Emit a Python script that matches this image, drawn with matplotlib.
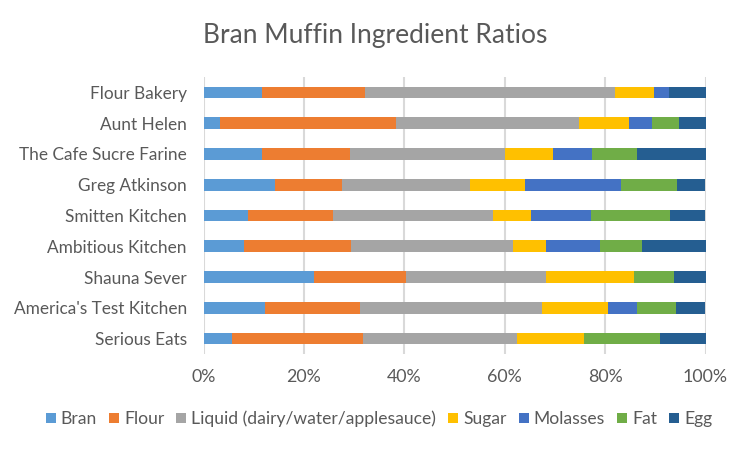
import matplotlib
matplotlib.use("Agg")
import matplotlib.pyplot as plt
import numpy as np

categories = ["Flour Bakery", "Aunt Helen", "The Cafe Sucre Farine", "Greg Atkinson",
              "Smitten Kitchen", "Ambitious Kitchen", "Shauna Sever",
              "America's Test Kitchen", "Serious Eats"]
series_names = ["Bran", "Flour", "Liquid (dairy/water/applesauce)", "Sugar",
                "Molasses", "Fat", "Egg"]
bran = [11.6, 3.3, 11.6, 14.2, 8.9, 8.1, 22.0, 12.3, 5.7]
flour = [20.6, 35.0, 17.6, 13.4, 16.9, 21.3, 18.3, 18.9, 26.1]
liquid = [49.8, 36.5, 30.9, 25.5, 31.9, 32.3, 27.9, 36.2, 30.7]
sugar = [7.7, 10.0, 9.5, 10.9, 7.5, 6.5, 17.6, 13.2, 13.3]
molasses = [3.0, 4.5, 7.8, 19.2, 12.0, 10.8, 0.0, 5.8, 0.0]
fat = [0.0, 5.4, 9.0, 11.1, 15.7, 8.4, 7.9, 7.7, 15.1]
egg = [7.3, 5.3, 13.6, 5.7, 7.1, 12.6, 6.3, 5.9, 9.1]
xtick_labels = ["0%", "20%", "40%", "60%", "80%", "100%"]

colors = ["#5B9BD5", "#ED7D31", "#A5A5A5", "#FFC000", "#4472C4", "#70AD47", "#255E91"]
text_color = "#595959"
font = ["Lato", "DejaVu Sans"]
plt.rcParams['font.family'] = font

fig = plt.figure(figsize=(7.5, 4.49), dpi=100)
ax = fig.add_axes([203.5/750, 1-354/449, 502/750, 277/449])

data = np.array([bran, flour, liquid, sugar, molasses, fat, egg])
totals = data.sum(axis=0)
frac = data / totals
y = np.arange(len(categories))
left = np.zeros(len(categories))
for name, vals, c in zip(series_names, frac, colors):
    ax.barh(y, vals, left=left, height=0.38, color=c, label=name, zorder=3)
    left = left + vals

ax.set_xlim(0, 1)
ax.set_ylim(len(categories) - 0.5, -0.5)
ax.set_yticks(y)
ax.set_yticklabels(categories, fontsize=12.4, color=text_color)
ax.set_xticks(np.linspace(0, 1, 6))
ax.set_xticklabels(xtick_labels, fontsize=12.8, color=text_color)
ax.tick_params(axis='both', length=0)
ax.tick_params(axis='y', pad=12)
ax.tick_params(axis='x', pad=10.5)
ax.grid(axis='x', color="#D9D9D9", linewidth=1.5, zorder=0)
for s in ax.spines.values():
    s.set_visible(False)

fig.suptitle("Bran Muffin Ingredient Ratios", x=375/750, y=1-35/449, va='center',
             fontsize=19, color=text_color)

leg = fig.legend(loc='center', bbox_to_anchor=(379/750, 1-419/449), ncol=7, frameon=False,
                 fontsize=12.6, handlelength=0.57, handleheight=0.57, handletextpad=0.29,
                 columnspacing=0.69, labelcolor=text_color)

fig.savefig("out.png", dpi=100)
